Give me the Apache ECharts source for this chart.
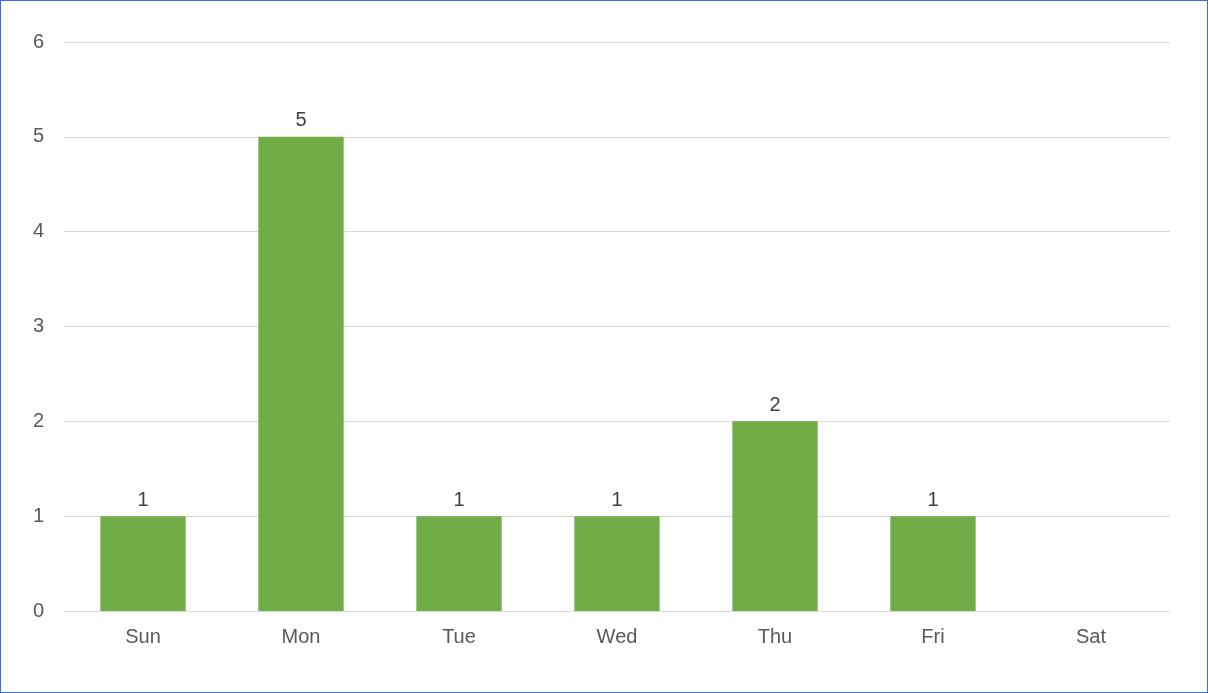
<!DOCTYPE html>
<html><head><meta charset="utf-8">
<script src="https://cdn.jsdelivr.net/npm/echarts@6/dist/echarts.min.js"></script>
<style>html,body{margin:0;padding:0;background:#fff}#c{width:1206px;height:691px;border:1px solid #4169e1}</style>
</head><body><div id="c"></div>
<script>
const categories = ['Sun','Mon','Tue','Wed','Thu','Fri','Sat'];
const values = [1,5,1,1,2,1,null];
const chart = echarts.init(document.getElementById('c'));
chart.setOption({
  animation:false,
  grid:{left:63,right:37,top:41,bottom:81},
  xAxis:{type:'category',data:categories,
    axisLine:{lineStyle:{color:'#d9d9d9'}},axisTick:{show:false},
    axisLabel:{color:'#595959',fontSize:20,fontFamily:'Arial, Liberation Sans',margin:16}},
  yAxis:{type:'value',min:0,max:6,interval:1,
    axisLine:{show:false},axisTick:{show:false},
    splitLine:{lineStyle:{color:'#d9d9d9'}},
    axisLabel:{color:'#595959',fontSize:20,fontFamily:'Arial, Liberation Sans',margin:20}},
  series:[{type:'bar',data:values,barWidth:'54%',itemStyle:{color:'#70AD47'},
    label:{show:true,position:'top',color:'#404040',fontSize:20,fontFamily:'Arial, Liberation Sans',distance:6}}]
});
</script></body></html>
